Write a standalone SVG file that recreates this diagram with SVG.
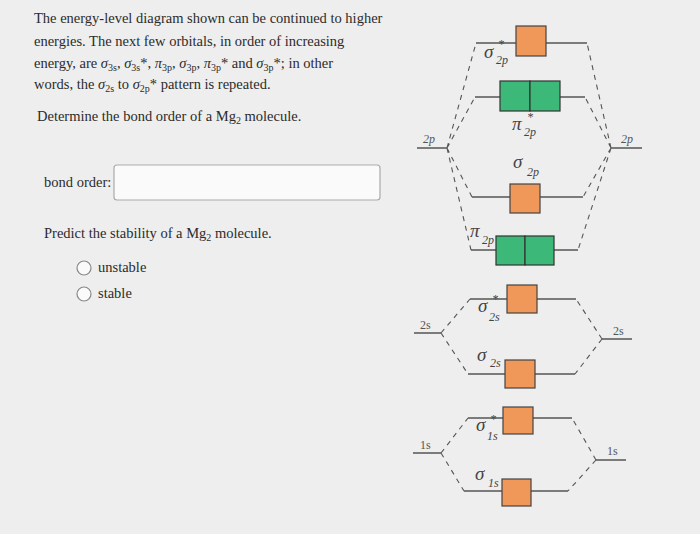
<svg xmlns="http://www.w3.org/2000/svg" width="700" height="534" viewBox="0 0 700 534">
<style>
text{font-family:"Liberation Serif",serif;fill:#2b2b2b}
.t{font-size:14.5px}
.l{stroke:#555;stroke-width:1.3;fill:none}
.d{stroke:#555;stroke-width:1.1;stroke-dasharray:5,5;fill:none}
.o{fill:#f0975a;stroke:#444;stroke-width:1.2}
.g{fill:#3cb878;stroke:#333;stroke-width:1.2}
.lab{font-size:19px;font-style:italic;fill:#444}
.sub{font-size:12px;font-style:italic;fill:#444}
.sm{font-size:12px;fill:#555}
</style>
<rect width="700" height="534" fill="#eeeeee"/>
<g id="text">
<text class="t" x="34" y="23">The energy-level diagram shown can be continued to higher</text>
<text class="t" x="34" y="46">energies. The next few orbitals, in order of increasing</text>
<text class="t" x="34" y="68">energy, are <tspan font-style="italic">σ</tspan><tspan font-size="10" dy="3">3s</tspan><tspan dy="-3">, </tspan><tspan font-style="italic">σ</tspan><tspan font-size="10" dy="3">3s</tspan><tspan dy="-3">*, </tspan><tspan font-style="italic">π</tspan><tspan font-size="10" dy="3">3p</tspan><tspan dy="-3">, </tspan><tspan font-style="italic">σ</tspan><tspan font-size="10" dy="3">3p</tspan><tspan dy="-3">, </tspan><tspan font-style="italic">π</tspan><tspan font-size="10" dy="3">3p</tspan><tspan dy="-3">* and </tspan><tspan font-style="italic">σ</tspan><tspan font-size="10" dy="3">3p</tspan><tspan dy="-3">*; in other</tspan></text>
<text class="t" x="34" y="89">words, the <tspan font-style="italic">σ</tspan><tspan font-size="10" dy="3">2s</tspan><tspan dy="-3"> to </tspan><tspan font-style="italic">σ</tspan><tspan font-size="10" dy="3">2p</tspan><tspan dy="-3">* pattern is repeated.</tspan></text>
<text class="t" x="37" y="121">Determine the bond order of a Mg<tspan font-size="10" dy="3">2</tspan><tspan dy="-3"> molecule.</tspan></text>
<text class="t" x="44" y="187" font-size="13">bond order:</text>
<text class="t" x="44" y="238" font-size="13">Predict the stability of a Mg<tspan font-size="10" dy="3">2</tspan><tspan dy="-3"> molecule.</tspan></text>
<text class="t" x="98" y="272" font-size="13">unstable</text>
<text class="t" x="98" y="298" font-size="13">stable</text>
</g>
<g id="input"><rect x="114" y="165" width="266" height="35" rx="3" fill="#fafafa" stroke="#aaa" stroke-width="1.2"/></g>
<g id="radios">
<circle cx="84" cy="268" r="7" fill="#fafafa" stroke="#888" stroke-width="1.2"/>
<circle cx="84" cy="294" r="7" fill="#fafafa" stroke="#888" stroke-width="1.2"/>
</g>
<g id="connectors">
<path class="d" d="M447 148L476 43M447 148L475 97M447 148L472 197M447 148L471 250"/>
<path class="d" d="M611 148L587 43M611 148L585 97M611 148L583 197M611 148L578 250"/>
<path class="d" d="M441 333L470 299M441 333L468 374M602 339L576 299M602 339L575 374"/>
<path class="d" d="M441 453L468 418M441 453L464 491M596 460L572 418M596 460L568 491"/>
</g>
<g id="atomic">
<path class="l" d="M417 148H447M611 148H642M414 333H441M602 339H632M413 453H441M596 460H626"/>
<text class="sm" x="423" y="143" font-style="italic" font-size="14">2p</text>
<text class="sm" x="621" y="143" font-style="italic" font-size="14">2p</text>
<text class="sm" x="420" y="329">2s</text>
<text class="sm" x="613" y="335">2s</text>
<text class="sm" x="420" y="449">1s</text>
<text class="sm" x="607" y="455">1s</text>
</g>
<g id="s2pstar"><path class="l" d="M476 43H587"/><rect class="o" x="516" y="26" width="30" height="30"/>
<text class="lab" x="484" y="58">σ</text><text class="sub" x="498" y="48">*</text><text class="sub" x="496" y="64">2p</text></g>
<g id="p2pstar"><path class="l" d="M475 97H585"/><rect class="g" x="500" y="81" width="30" height="30"/><rect class="g" x="530" y="81" width="30" height="30"/>
<text class="lab" x="512" y="130">π</text><text class="sub" x="527" y="121">*</text><text class="sub" x="524" y="136">2p</text></g>
<g id="s2p"><path class="l" d="M472 197H583"/><rect class="o" x="510" y="184" width="30" height="29"/>
<text class="lab" x="513" y="168">σ</text><text class="sub" x="527" y="176">2p</text></g>
<g id="p2p"><path class="l" d="M471 250H578"/><rect class="g" x="496" y="236" width="29" height="29"/><rect class="g" x="525" y="236" width="29" height="29"/>
<text class="lab" x="470" y="237">π</text><text class="sub" x="482" y="244">2p</text></g>
<g id="s2sstar"><path class="l" d="M470 299H576"/><rect class="o" x="507" y="285" width="30" height="28"/>
<text class="lab" x="478" y="312">σ</text><text class="sub" x="492" y="303">*</text><text class="sub" x="489" y="321">2s</text></g>
<g id="s2s"><path class="l" d="M468 374H575"/><rect class="o" x="505" y="360" width="30" height="28"/>
<text class="lab" x="477" y="361">σ</text><text class="sub" x="490" y="367">2s</text></g>
<g id="s1sstar"><path class="l" d="M468 418H572"/><rect class="o" x="503" y="407" width="30" height="27"/>
<text class="lab" x="476" y="431">σ</text><text class="sub" x="490" y="423">*</text><text class="sub" x="487" y="440">1s</text></g>
<g id="s1s"><path class="l" d="M464 491H568"/><rect class="o" x="502" y="479" width="29" height="27"/>
<text class="lab" x="475" y="480">σ</text><text class="sub" x="488" y="487">1s</text></g>
</svg>
